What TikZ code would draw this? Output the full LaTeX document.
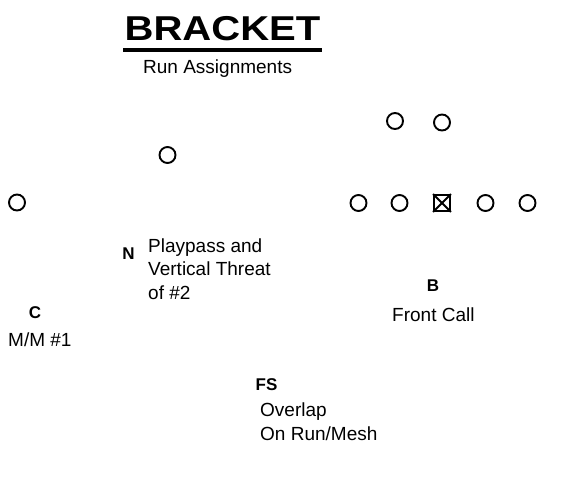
\documentclass[tikz,border=0pt]{standalone}
\usepackage{fontspec}
\usepackage{graphicx}
\setmainfont{Liberation Sans}
\newcommand\bodyfont{\fontsize{19}{23}\selectfont}
\newcommand\tagfont{\fontsize{17}{20}\selectfont\bfseries}
\newcommand\titlefont{\fontsize{34.5}{38}\selectfont\bfseries}
\tikzset{
  player/.style={circle, draw, line width=1.9pt, minimum size=16pt, inner sep=0pt},
  ballbox/.style={rectangle, draw, line width=1.9pt, minimum size=16pt, inner sep=0pt},
  body/.style={font=\bodyfont, inner sep=0pt, anchor=base west},
  tag/.style={font=\tagfont, inner sep=0pt, anchor=base},
}
\begin{document}
\begin{tikzpicture}[x=1pt,y=-1pt]
\useasboundingbox (0,0) rectangle (577,480);
% title
\node[font=\titlefont, inner sep=0pt, anchor=base] (title) at (222.5,40.5) {\scalebox{1.16}[1]{BRACKET}};
\coordinate (ulA) at (123,50);
\coordinate (ulB) at (322,50);
\draw[line width=3.5pt] (ulA) -- (ulB);
\node[body] (sub) at (143,73) {Run Assignments};
% players
\node[player] (p1) at (395,121) {};
\node[player] (p2) at (442,122.5) {};
\node[player] (p3) at (167.5,155) {};
\node[player] (p4) at (17,202.5) {};
\node[player] (p5) at (358.5,203) {};
\node[player] (p6) at (399.5,203) {};
\node[ballbox] (ball) at (442,203) {};
\draw[line width=1.9pt] (ball.north west) -- (ball.south east) (ball.north east) -- (ball.south west);
\node[player] (p7) at (485.5,203) {};
\node[player] (p8) at (527.5,203) {};
% labels
\node[tag] (N) at (128.5,259.5) {N};
\node[body] (n1) at (148,252) {Playpass and};
\node[body] (n2) at (148,275.5) {Vertical Threat};
\node[body] (n3) at (148,299) {of \#2};
\node[tag] (C) at (35,318.5) {C};
\node[body] (c1) at (8,346) {M/M \#1};
\node[tag] (B) at (433,291.5) {B};
\node[body] (b1) at (392,321.5) {Front Call};
\node[tag] (FS) at (266.5,390.5) {FS};
\node[body] (f1) at (260,416.5) {Overlap};
\node[body] (f2) at (260,440.5) {On Run/Mesh};
\end{tikzpicture}
\end{document}
